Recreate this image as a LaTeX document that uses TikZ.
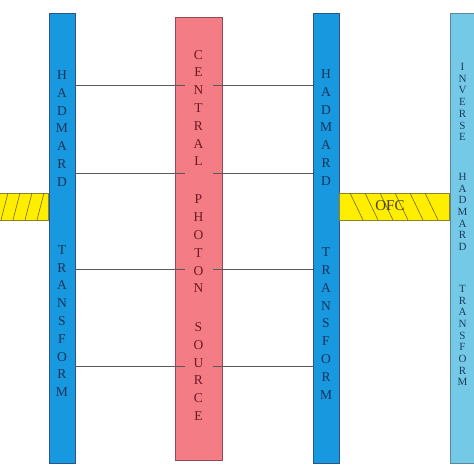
\documentclass[tikz,border=0pt]{standalone}
\usepackage{fontspec}
\setmainfont{Liberation Serif}
\definecolor{hadblue}{RGB}{24,152,222}
\definecolor{hadline}{RGB}{45,85,130}
\definecolor{hadtext}{RGB}{25,50,90}
\definecolor{srcred}{RGB}{244,124,132}
\definecolor{srcline}{RGB}{145,75,85}
\definecolor{srctext}{RGB}{110,25,35}
\definecolor{invblue}{RGB}{116,202,230}
\definecolor{invline}{RGB}{95,135,155}
\definecolor{invtext}{RGB}{30,60,90}
\definecolor{ofcyellow}{RGB}{255,238,0}
\definecolor{ofcline}{RGB}{140,130,40}
\definecolor{ofctext}{RGB}{75,65,20}

\begin{document}
\begin{tikzpicture}[x=1pt,y=-1pt,
  bar/.style={draw,line width=0.8pt,inner sep=0pt,minimum width=26pt,minimum height=450pt},
  letters/.style={align=center,inner sep=0pt,font=\fontsize{13.5}{17.8}\selectfont},
  smallletters/.style={align=center,inner sep=0pt,font=\fontsize{11}{11.7}\selectfont},
  link/.style={gray!70!black,line width=0.6pt},
  ofc/.style={fill=ofcyellow,draw=ofcline,line width=0.8pt},
  hatch/.style={ofcline!80!black,line width=0.6pt}]
\useasboundingbox (0,0) rectangle (474,474);
\clip (0,0) rectangle (474,474);

% the bars
\node at (62,238) [bar,fill=hadblue,draw=hadline] (hadL) {};
\node at (198.5,238.5) [bar,fill=srcred,draw=srcline,minimum width=47pt,minimum height=443pt] (cps) {};
\node at (326,238) [bar,fill=hadblue,draw=hadline] (hadR) {};
\node at (463,238) [bar,fill=invblue,draw=invline] (ihad) {};

% optical fibre channels
\draw[ofc] (-5,193) rectangle (hadL.west |- 0,220);
\foreach \x in {1,13,25,37}
  \draw[hatch] (\x,220) -- (\x+7,193);
\node at (-14,206) [text=ofctext,font=\fontsize{15}{15}\selectfont] (ofcL) {OFC};
\draw[ofc] (hadR.east |- 0,193) rectangle (ihad.west |- 0,220);
\foreach \x in {350,365,...,425}
  \draw[hatch] (\x,193) -- (\x+13,220);
\node at (390,206) [text=ofctext,font=\fontsize{15}{15}\selectfont] (ofcR) {OFC};

% links to the photon source
\foreach \y in {85,173,269,366}{
  \draw[link] (hadL.east |- 0,\y) -- ([xshift=10pt]cps.west |- 0,\y);
  \draw[link] ([xshift=-9pt]cps.east |- 0,\y) -- (hadR.west |- 0,\y);
}

% labels
\node at (62,128.5) [letters,text=hadtext] (hadLa) {H\\A\\D\\M\\A\\R\\D};
\node at (62,321) [letters,text=hadtext] (hadLb) {T\\R\\A\\N\\S\\F\\O\\R\\M};
\node at (198.5,108) [letters,text=srctext] (cpsa) {C\\E\\N\\T\\R\\A\\L};
\node at (198.5,244) [letters,text=srctext] (cpsb) {P\\H\\O\\T\\O\\N};
\node at (198.5,371.5) [letters,text=srctext] (cpsc) {S\\O\\U\\R\\C\\E};
\node at (326,127.5) [letters,text=hadtext] (hadRa) {H\\A\\D\\M\\A\\R\\D};
\node at (326,323.5) [letters,text=hadtext] (hadRb) {T\\R\\A\\N\\S\\F\\O\\R\\M};
\node at (462.5,102) [smallletters,text=invtext] (ihada) {I\\N\\V\\E\\R\\S\\E};
\node at (462.5,212) [smallletters,text=invtext] (ihadb) {H\\A\\D\\M\\A\\R\\D};
\node at (462.5,335.5) [smallletters,text=invtext] (ihadc) {T\\R\\A\\N\\S\\F\\O\\R\\M};
\end{tikzpicture}
\end{document}
